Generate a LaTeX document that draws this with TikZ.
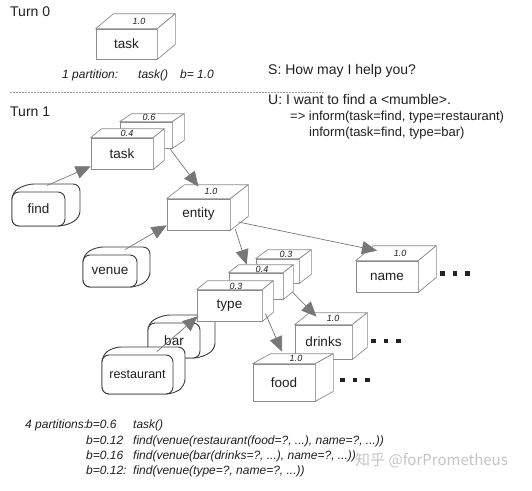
\documentclass[tikz,border=0pt]{standalone}
\usepackage{fontspec}
\setmainfont{Liberation Sans}
\newfontfamily\cjkfont{Noto Sans CJK SC}
\usetikzlibrary{arrows.meta,calc}
\definecolor{cubegray}{HTML}{8C8C8C}
\definecolor{boxdark}{HTML}{3A3A3A}
\definecolor{arrgray}{HTML}{777777}
\definecolor{txtcol}{HTML}{202020}
\definecolor{sepcol}{HTML}{9A9A9A}
\definecolor{wmgray}{HTML}{C4C4C4}
\definecolor{dotcol}{HTML}{222222}
\tikzset{
  cubeface/.style={draw=cubegray, fill=white, line width=0.7pt, inner sep=0pt, text=txtcol, font=\fontsize{13.5}{16}\selectfont},
  cubeside/.style={draw=cubegray, fill=white, line width=0.7pt, line join=round},
  rbox/.style={draw=boxdark, fill=white, line width=0.9pt, rounded corners=7pt, inner sep=0pt, text=txtcol, font=\fontsize{13.5}{16}\selectfont},
  rhull/.style={draw=boxdark, fill=white, line width=0.9pt, rounded corners=7pt},
  prob/.style={font=\fontsize{9}{10}\selectfont\itshape, inner sep=0pt, text=txtcol},
  txt/.style={font=\fontsize{14}{16}\selectfont, inner sep=0pt, anchor=mid west, text=txtcol},
  stxt/.style={font=\fontsize{13}{16}\selectfont, inner sep=0pt, anchor=mid west, text=txtcol},
  itxt/.style={font=\fontsize{12}{14}\selectfont\itshape, inner sep=0pt, anchor=mid west, text=txtcol},
  arr/.style={draw=arrgray, line width=0.7pt, -{Triangle[length=15pt,width=13pt]}},
  dotsq/.style={fill=dotcol},
}
% name, x, y, w, h, dx, dy(up), text
\newcommand{\mycube}[8]{%
  \node[cubeface, minimum width=#4pt, minimum height=#5pt] (#1) at (#2,#3) {#8};
  \path[cubeside] (#1.north west) -- ++(#6,-#7) -- ($(#1.north east)+(#6,-#7)$) -- (#1.north east) -- cycle;
  \path[cubeside] (#1.north east) -- ++(#6,-#7) -- ($(#1.south east)+(#6,-#7)$) -- (#1.south east) -- cycle;
}
\newcommand{\rndbox}[9]{%
  \path[rhull] ({#2-#4/2},{#3+#5/2}) -- ({#2-#4/2},{#3-#5/2}) -- ({#2-#4/2+#6},{#3-#5/2-#7}) -- ({#2+#4/2+#6},{#3-#5/2-#7}) -- ({#2+#4/2+#6},{#3+#5/2-#7}) -- ({#2+#4/2},{#3+#5/2}) -- cycle;
  \node[rbox, minimum width=#4pt, minimum height=#5pt, font=\fontsize{#9}{16}\selectfont] (#1) at (#2,#3) {#8};
}
\newcommand{\threedots}[3]{%
  \fill[dotsq] ($(#1)+(#2,#3)$) ++(-2.2,-2.2) rectangle ++(4.4,4.4);
  \fill[dotsq] ($(#1)+(#2+12.5,#3)$) ++(-2.2,-2.2) rectangle ++(4.4,4.4);
  \fill[dotsq] ($(#1)+(#2+25,#3)$) ++(-2.2,-2.2) rectangle ++(4.4,4.4);
}
\begin{document}
\begin{tikzpicture}[x=1pt,y=-1pt]
\fill[white] (0,0) rectangle (532,490);
\useasboundingbox (0,0) rectangle (532,490);

% ---------- Turn 0 ----------
\node[txt] (turn0) at (10,14) {Turn 0};
\mycube{tz}{126.5}{44}{61}{30}{18}{15}{task}
\node[prob] (tzp) at (139,21) {1.0};
\node[itxt] (part1) at (62,76) {1 partition:};
\node[itxt] (part1a) at (138,76) {task()};
\node[itxt] (part1b) at (180,76) {b= 1.0};

\draw[sepcol, line width=0.8pt, dash pattern=on 2pt off 1pt] (10,92) coordinate (sepA) -- (325,92) coordinate (sepB);

\node[txt] (sys) at (268,72) {S: How may I help you?};
\node[txt] (usr) at (268,102) {U: I want to find a <mumble>.};
\node[stxt] (inf1) at (290,118) {=> inform(task=find, type=restaurant)};
\node[stxt] (inf2) at (309,134) {inform(task=find, type=bar)};

% ---------- Turn 1 ----------
\node[txt] (turn1) at (10,114) {Turn 1};

\mycube{taskb}{146}{135}{52}{26}{12}{8}{}
\node[prob] (taskbp) at (149,117.5) {0.6};
\mycube{task}{122}{153.5}{62}{31}{11}{9}{task}
\node[prob] (taskp) at (127,133.5) {0.4};

\rndbox{find}{38.5}{209}{53}{34}{15}{8}{find}{13.5}

\mycube{entity}{198.5}{214.5}{63}{31}{18}{14}{entity}
\node[prob] (entityp) at (211,191) {1.0};

\rndbox{venue}{110}{271}{54}{32}{13}{8}{venue}{13.5}

\mycube{name}{387}{276.5}{62}{31}{18}{15}{name}
\node[prob] (namep) at (400,253) {1.0};
\threedots{name.east}{24}{-3}

\rndbox{bar}{174}{340.5}{52}{35}{15}{8}{bar}{13.5}
\rndbox{rest}{137.5}{374.5}{71}{39}{12}{8}{restaurant}{12.5}

\mycube{typec}{277.5}{271}{43}{24}{12}{9}{}
\node[prob] (typecp) at (286,254.5) {0.3};
\mycube{typeb}{256}{286}{54}{26}{10}{8}{}
\node[prob] (typebp) at (262,269.5) {0.4};
\mycube{type}{229.5}{305.5}{65}{31}{11}{9}{type}
\node[prob] (typep) at (236,286.5) {0.3};

\mycube{drinks}{323.5}{342}{57}{34}{15}{12}{drinks}
\node[prob] (drinksp) at (333,318.5) {1.0};
\threedots{drinks.east}{21}{-1}

\mycube{food}{284}{382.5}{62}{37}{18}{10}{food}
\node[prob] (foodp) at (296,358.5) {1.0};
\threedots{food.east}{27}{-2.5}

% ---------- arrows ----------
\draw[arr] ([shift={(8.5,-6)}]find.north) -- ([shift={(0,-3)}]task.south west);
\draw[arr] ([shift={(-2,1)}]taskb.south east) -- ([shift={(0,-12)}]entity.north);
\draw[arr] ([shift={(15,-5)}]venue.north) -- ([shift={(0,-5)}]entity.south west);
\draw[arr] ([shift={(8,7.5)}]entity.east) -- ([shift={(-10,-10)}]name.north);
\draw[arr] ([shift={(5,-1)}]entity.south east) -- ([shift={(18,-8)}]typeb.north west);
\draw[arr] ([shift={(19.5,-3)}]rest.north) -- ([shift={(1,-5)}]type.south west);
\draw[arr] ([shift={(3,8)}]type.east) -- ([shift={(-2,-12)}]food.north);
\draw[arr] ([shift={(9,6)}]typeb.east) -- ([shift={(-7,-8)}]drinks.north);

% ---------- bottom text ----------
\node[itxt] (p4) at (25,426) {4 partitions:};
\node[itxt] (b1) at (86,426) {b=0.6};
\node[itxt] (b2) at (86,442) {b=0.12};
\node[itxt] (b3) at (86,457) {b=0.16};
\node[itxt] (b4) at (86,472) {b=0.12:};
\node[itxt] (f1) at (133,426) {task()};
\node[itxt] (f2) at (133,442) {find(venue(restaurant(food=?, ...), name=?, ...))};
\node[itxt] (f3) at (133,457) {find(venue(bar(drinks=?, ...), name=?, ...))};
\node[itxt] (f4) at (133,472) {find(venue(type=?, name=?, ...))};

\node[anchor=mid west, inner sep=0pt, text=wmgray, font=\fontsize{15}{17}\selectfont\cjkfont] (wm) at (355,463) {知乎 @forPrometheus};
\end{tikzpicture}
\end{document}
